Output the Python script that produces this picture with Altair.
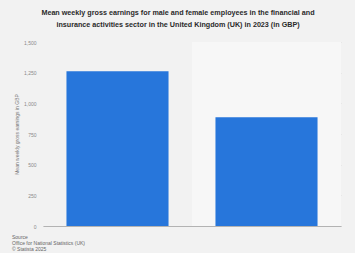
import altair as alt
import pandas as pd

categories = ["Male", "Female"]
values = [1262, 887]
band_fill = ["#f2f2f2", "#f7f7f7"]
y_ticks = [0, 250, 500, 750, 1000, 1250, 1500]

df = pd.DataFrame({"gender": categories, "earnings": values, "bandfill": band_fill})

FONT = "Liberation Sans"
W, H = 298, 184

x_enc = alt.X("gender:N", sort=categories,
              scale=alt.Scale(paddingInner=0, paddingOuter=0),
              axis=alt.Axis(labels=False, ticks=False, title=None,
                            domain=True, domainColor="#b3b3b3", domainWidth=1))

bands = alt.Chart(df).mark_rect().encode(
    x=x_enc,
    y=alt.value(0), y2=alt.value(H),
    color=alt.Color("bandfill:N", scale=None, legend=None),
)

bars = alt.Chart(df).mark_bar(width={"band": 0.685}, color="#2776db").encode(
    x=x_enc,
    y=alt.Y("earnings:Q",
            scale=alt.Scale(domain=[0, 1500], nice=False),
            axis=alt.Axis(values=y_ticks, format=",d", ticks=False, domain=False,
                          grid=True, gridColor="#dcdcdc", gridDash=[3, 2], gridWidth=1,
                          labelFont=FONT, labelFontSize=5, labelColor="#8a8a8a",
                          labelPadding=7,
                          title="Mean weekly gross earnings in GBP",
                          titleFont=FONT, titleFontSize=5, titleColor="#777777",
                          titleFontWeight="normal", titlePadding=4)),
)

source = alt.Chart(df).mark_text(
    align="left", baseline="top", font=FONT, fontSize=5, color="#666666", lineHeight=6.2
).encode(
    x=alt.value(-31), y=alt.value(193),
    text=alt.value(["Source", "Office for National Statistics (UK)", "© Statista 2025"]),
).transform_filter(alt.datum.gender == "Male")

chart = alt.layer(bands, bars, source).properties(
    width=W, height=H,
    background="#f2f2f2",
    padding={"left": 43, "top": 42, "right": 14, "bottom": 27},
    autosize=alt.AutoSizeParams(type="none"),
    title=alt.TitleParams(
        ["Mean weekly gross earnings for male and female employees in the financial and",
         "insurance activities sector in the United Kingdom (UK) in 2023 (in GBP)"],
        font=FONT, fontSize=7.2, fontWeight="bold", color="#2a2a2a",
        lineHeight=12, anchor="middle", dx=-14, offset=12,
    ),
).configure_view(stroke=None)

chart.save("out.html", embed_options={"renderer": "svg", "actions": False})
